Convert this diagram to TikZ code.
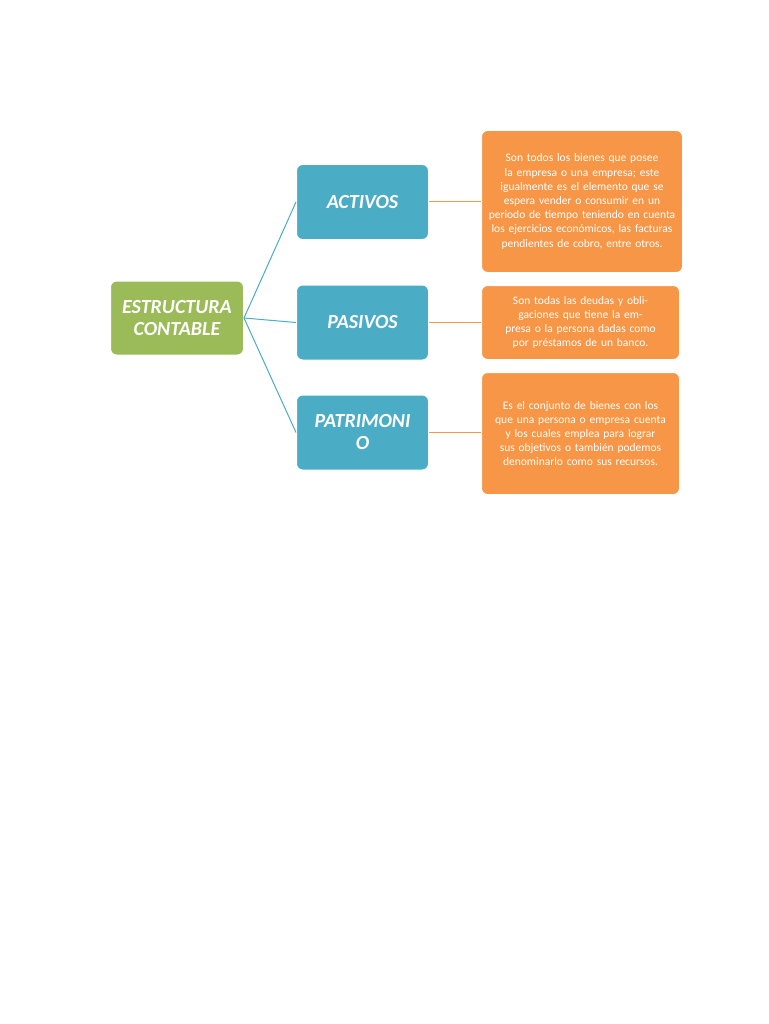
\documentclass[tikz,border=0pt]{standalone}
\usepackage{fontspec}
\setmainfont{Carlito}
\definecolor{gr}{HTML}{9BBB59}
\definecolor{bl}{HTML}{4BACC6}
\definecolor{orf}{HTML}{F79646}
\begin{document}
\begin{tikzpicture}[x=1pt,y=-1pt,
 base/.style={rounded corners=6pt,draw=white,line width=1pt,text=white,align=center,inner sep=2pt},
 head/.style={base,font=\bfseries\itshape\fontsize{20}{22}\selectfont},
 desc/.style={base,fill=orf,font=\fontsize{11.5}{14.2}\selectfont},
 lb/.style={bl,line width=1pt},
 lo/.style={orf,line width=1pt}]
\useasboundingbox (0,0) rectangle (768,1024);
\node[head,fill=gr,minimum width=133pt,minimum height=74pt] (ec) at (177,318) {ESTRUCTURA\\CONTABLE};
\node[head,fill=bl,minimum width=132pt,minimum height=75pt] (ac) at (362.5,202) {ACTIVOS};
\node[head,fill=bl,minimum width=132pt,minimum height=75pt] (pa) at (362.5,322.5) {PASIVOS};
\node[head,fill=bl,minimum width=132pt,minimum height=75pt,text width=126pt] (pt) at (362.5,432.5) {PATRIMONI\\O};
\node[desc,minimum width=201pt,minimum height=142pt,text width=195pt] (d1) at (582,201.5) {Son todos los bienes que posee la empresa o una empresa; este igualmente es el elemento que se espera vender o consumir en un periodo de tiempo teniendo en cuenta los ejercicios económicos, las facturas pendientes de cobro, entre otros.};
\node[desc,minimum width=198pt,minimum height=74pt,text width=192pt] (d2) at (580.5,322.5) {Son todas las deudas y obligaciones que tiene la empresa o la persona dadas como por préstamos de un banco.};
\node[desc,minimum width=198pt,minimum height=122pt,text width=190pt] (d3) at (580.5,433.5) {Es el conjunto de bienes con los que una persona o empresa cuenta y los cuales emplea para lograr sus objetivos o también podemos denominarlo como sus recursos.};
\draw[lb] (ec.east) -- (ac.west);
\draw[lb] (ec.east) -- (pa.west);
\draw[lb] (ec.east) -- (pt.west);
\draw[lo] (ac.east) -- (d1.west |- ac.east);
\draw[lo] (pa.east) -- (d2.west);
\draw[lo] (pt.east) -- (d3.west |- pt.east);
\end{tikzpicture}
\end{document}
